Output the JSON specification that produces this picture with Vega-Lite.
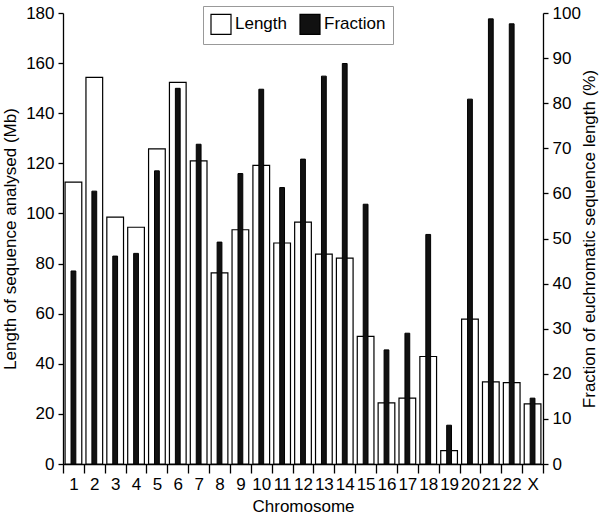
{
  "$schema": "https://vega.github.io/schema/vega-lite/v6.json",
  "width": 480,
  "height": 451,
  "autosize": {"type": "none"},
  "padding": {"left": 63, "top": 13, "right": 57, "bottom": 50},
  "background": "white",
  "config": {
    "view": {"stroke": null},
    "font": "Liberation Sans",
    "axis": {
      "labelFont": "Liberation Sans",
      "titleFont": "Liberation Sans",
      "labelFontSize": 17,
      "titleFontSize": 17,
      "titleFontWeight": "normal",
      "labelColor": "black",
      "titleColor": "black",
      "domainColor": "black",
      "tickColor": "black",
      "domainWidth": 1.3,
      "tickWidth": 1.3,
      "grid": false
    },
    "legend": {"labelFont": "Liberation Sans"}
  },
  "data": {
    "values": [
      {"chr": "1", "length": 112.5, "fraction": 42.8},
      {"chr": "2", "length": 154.3, "fraction": 60.5},
      {"chr": "3", "length": 98.5, "fraction": 46.1},
      {"chr": "4", "length": 94.5, "fraction": 46.7},
      {"chr": "5", "length": 125.8, "fraction": 65.0},
      {"chr": "6", "length": 152.3, "fraction": 83.3},
      {"chr": "7", "length": 121.0, "fraction": 70.9},
      {"chr": "8", "length": 76.3, "fraction": 49.2},
      {"chr": "9", "length": 93.5, "fraction": 64.4},
      {"chr": "10", "length": 119.2, "fraction": 83.1},
      {"chr": "11", "length": 88.2, "fraction": 61.3},
      {"chr": "12", "length": 96.5, "fraction": 67.6},
      {"chr": "13", "length": 83.8, "fraction": 86.0},
      {"chr": "14", "length": 82.2, "fraction": 88.8},
      {"chr": "15", "length": 50.9, "fraction": 57.6},
      {"chr": "16", "length": 24.4, "fraction": 25.3},
      {"chr": "17", "length": 26.3, "fraction": 29.0},
      {"chr": "18", "length": 42.9, "fraction": 50.9},
      {"chr": "19", "length": 5.3, "fraction": 8.6},
      {"chr": "20", "length": 57.8, "fraction": 80.9},
      {"chr": "21", "length": 32.8, "fraction": 98.7},
      {"chr": "22", "length": 32.5, "fraction": 97.6},
      {"chr": "X", "length": 24.0, "fraction": 14.6}
    ]
  },
  "layer": [
    {
      "mark": {"type": "bar", "stroke": "black", "strokeWidth": 1.2, "width": {"band": 0.8}},
      "encoding": {
        "x": {
          "field": "chr",
          "type": "ordinal",
          "sort": null,
          "scale": {"paddingInner": 0, "paddingOuter": 0},
          "axis": {
            "title": "Chromosome",
            "labelAngle": 0,
            "tickBand": "extent",
            "tickSize": 9,
            "labelPadding": 3,
            "titleBaseline": "alphabetic",
            "titleX": 240,
            "titleY": 47
          }
        },
        "y": {
          "field": "length",
          "type": "quantitative",
          "scale": {"domain": [0, 180], "nice": false},
          "axis": {
            "orient": "left",
            "title": "Length of sequence analysed (Mb)",
            "values": [0, 20, 40, 60, 80, 100, 120, 140, 160, 180],
            "tickSize": 5,
            "labelPadding": 4,
            "titleAngle": 270,
            "titleBaseline": "alphabetic",
            "titleAlign": "center",
            "titleX": -48,
            "titleY": 225.5
          }
        },
        "fill": {
          "datum": "Length",
          "type": "nominal",
          "scale": {"domain": ["Length", "Fraction"], "range": ["white", "#111111"]},
          "legend": {
            "title": null,
            "orient": "none",
            "legendX": 140,
            "legendY": -7,
            "direction": "horizontal",
            "symbolType": "square",
            "symbolSize": 400,
            "symbolStrokeColor": "black",
            "symbolStrokeWidth": 1.2,
            "labelFontSize": 17,
            "labelColor": "black",
            "labelOffset": 3,
            "columnPadding": 10,
            "padding": 7,
            "strokeColor": "#999999",
            "fillColor": "white"
          }
        }
      }
    },
    {
      "mark": {"type": "bar", "stroke": "black", "strokeWidth": 1, "width": {"band": 0.23}},
      "encoding": {
        "x": {"field": "chr", "type": "ordinal", "sort": null},
        "y": {
          "field": "fraction",
          "type": "quantitative",
          "scale": {"domain": [0, 100], "nice": false},
          "axis": {
            "orient": "right",
            "title": "Fraction of euchromatic sequence length (%)",
            "values": [0, 10, 20, 30, 40, 50, 60, 70, 80, 90, 100],
            "tickSize": 5,
            "labelPadding": 4,
            "titleAngle": 270,
            "titleBaseline": "alphabetic",
            "titleAlign": "center",
            "titleX": 51,
            "titleY": 225.5
          }
        },
        "fill": {"datum": "Fraction", "type": "nominal"}
      }
    }
  ],
  "resolve": {"scale": {"y": "independent"}}
}
